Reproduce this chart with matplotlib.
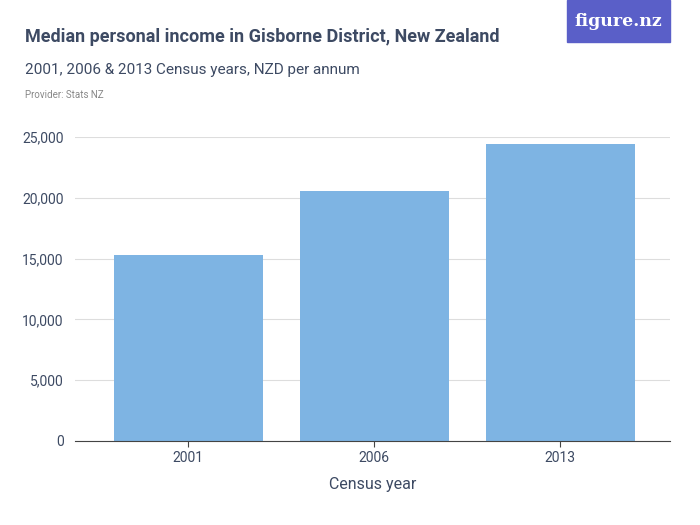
import matplotlib
matplotlib.use("Agg")
import matplotlib.pyplot as plt
from matplotlib.ticker import FuncFormatter

years = ["2001", "2006", "2013"]
income = [15300, 20600, 24400]

plt.rcParams['font.family'] = ['Roboto', 'DejaVu Sans']

fig = plt.figure(figsize=(7, 5.25), dpi=100)
ax = fig.add_axes([0.107, 0.16, 0.85, 0.579])

ax.bar(range(len(years)), income, width=0.8, color='#7eb4e3', zorder=2)
ax.set_xlim(-0.61, 2.59)
ax.set_ylim(0, 25000)
ax.set_yticks(range(0, 25001, 5000))
ax.yaxis.set_major_formatter(FuncFormatter(lambda v, p: f"{int(v):,}"))
ax.set_xticks(range(len(years)))
ax.set_xticklabels(years)
ax.grid(axis='y', color='#dddddd', linewidth=0.8, zorder=0)
for s in ['top', 'right', 'left']:
    ax.spines[s].set_visible(False)
ax.spines['bottom'].set_color('#444444')
ax.tick_params(axis='y', length=0, labelsize=10, colors='#3d4a63', pad=8)
ax.tick_params(axis='x', length=4, labelsize=10, colors='#3d4a63', color='#444444')
ax.set_xlabel("Census year", fontsize=11.5, color='#3d4a63', labelpad=8)

fig.text(0.036, 0.93, "Median personal income in Gisborne District, New Zealand",
         fontsize=13, fontweight='bold', color='#3d4a63', va='center')
fig.text(0.036, 0.866, "2001, 2006 & 2013 Census years, NZD per annum",
         fontsize=11, color='#3d4a63', va='center')
fig.text(0.036, 0.82, "Provider: Stats NZ", fontsize=7, color='#888888', va='center')

fig.patches.append(plt.Rectangle((0.81, 0.92), 0.147, 0.08, transform=fig.transFigure,
                                 color='#5a5fc8', zorder=0))
fig.text(0.883, 0.96, "figure.nz", fontsize=12.5, fontweight='bold', color='white',
         ha='center', va='center', family='DejaVu Serif')

fig.savefig("out.png", dpi=100)
